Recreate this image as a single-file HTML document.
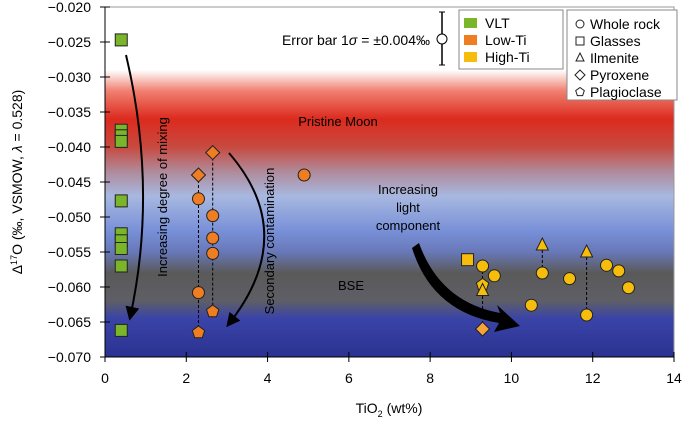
<!DOCTYPE html>
<html><head><meta charset="utf-8"><style>
body{margin:0;background:#fff;font-family:"Liberation Sans",sans-serif}
svg text{font-family:"Liberation Sans","DejaVu Sans",sans-serif}
</style></head><body>
<svg id="c" width="685" height="422" viewBox="0 0 685 422" xmlns="http://www.w3.org/2000/svg">
<defs>
<linearGradient id="bg" x1="0" y1="0" x2="0" y2="1">
<stop offset="0" stop-color="#ffffff"/>
<stop offset="0.18" stop-color="#ffffff"/>
<stop offset="0.24" stop-color="#f08070"/>
<stop offset="0.32" stop-color="#dc2a1e"/>
<stop offset="0.40" stop-color="#c84a40"/>
<stop offset="0.47" stop-color="#b08a9a"/>
<stop offset="0.54" stop-color="#a8b8e0"/>
<stop offset="0.64" stop-color="#7890d8"/>
<stop offset="0.70" stop-color="#6878b8"/>
<stop offset="0.76" stop-color="#5a5a5a"/>
<stop offset="0.84" stop-color="#5e5e66"/>
<stop offset="0.89" stop-color="#3a44a8"/>
<stop offset="1" stop-color="#2a3290"/>
</linearGradient>
<marker id="ah" viewBox="0 0 10 10" refX="8" refY="5" markerWidth="7" markerHeight="7" orient="auto"><path d="M0,0L10,5L0,10z" fill="#000"/></marker>
</defs>
<rect x="105" y="7" width="569" height="350" fill="url(#bg)" stroke="#999" stroke-width="1"/>
<g id="axes"></g>
<g id="marks"></g>
<text x="338" y="126" font-size="13" text-anchor="middle">Pristine Moon</text>
<text x="351" y="290" font-size="13" text-anchor="middle">BSE</text>
<path d="M126,55 Q158,190 130,318" fill="none" stroke="#000" stroke-width="2" marker-end="url(#ah)"/>
<text transform="translate(167,197) rotate(-90)" font-size="13" text-anchor="middle">Increasing degree of mixing</text>
<path d="M229,153 Q300,235 228,325" fill="none" stroke="#000" stroke-width="2" marker-end="url(#ah)"/>
<text transform="translate(274,241) rotate(-90)" font-size="13" text-anchor="middle">Secondary contamination</text>
<path d="M419,243 Q440,302 500,313 L497,305 L520,326 L494,332 L499,323 Q432,312 412,248z" fill="#000"/>
<text x="408" y="194" font-size="13" text-anchor="middle"><tspan x="408" dy="0">Increasing</tspan><tspan x="408" dy="18">light</tspan><tspan x="408" dy="18">component</tspan></text>
<text x="430" y="45" font-size="14" text-anchor="end">Error bar 1<tspan font-style="italic">σ</tspan> = ±0.004‰</text>
<line x1="442" y1="12" x2="442" y2="65" stroke="#000" stroke-width="1.5"/>
<line x1="439" y1="12" x2="445" y2="12" stroke="#000"/><line x1="439" y1="65" x2="445" y2="65" stroke="#000"/>
<circle cx="442" cy="39" r="5" fill="#fff" stroke="#000"/>
<rect x="459" y="10" width="104" height="59" fill="#fff" stroke="#888"/>
<rect x="567" y="10" width="110" height="90" fill="#fff" stroke="#888"/>
<g id="legend"></g>
<text transform="translate(22,182) rotate(-90)" font-size="14" text-anchor="middle">Δ<tspan font-size="9" dy="-5">17</tspan><tspan dy="5">O (‰, VSMOW, </tspan><tspan font-style="italic">λ</tspan> = 0.528)</text>
<text x="389" y="413" font-size="14" text-anchor="middle">TiO<tspan font-size="9" dy="4">2</tspan><tspan dy="-4"> (wt%)</tspan></text>
</svg>
<script>
const xTicks=[0,2,4,6,8,10,12,14];
const yTicks=[-0.020,-0.025,-0.030,-0.035,-0.040,-0.045,-0.050,-0.055,-0.060,-0.065,-0.070];
const vltX=[0.4,0.4,0.4,0.4,0.4,0.4,0.4,0.4,0.4,0.4];
const vltY=[-0.0247,-0.0376,-0.0384,-0.0392,-0.0477,-0.0524,-0.0534,-0.0545,-0.0570,-0.0662];
const lowX=[2.3,2.3,2.3,2.3,2.65,2.65,2.65,2.65,2.65,4.9];
const lowY=[-0.0440,-0.0474,-0.0608,-0.0665,-0.0408,-0.0498,-0.0530,-0.0552,-0.0635,-0.0440];
const lowShape=["diamond","circle","circle","pentagon","diamond","circle","circle","circle","pentagon","circle"];
const highX=[8.92,9.29,9.29,9.29,9.29,9.58,10.49,10.76,10.76,11.43,11.85,11.85,12.34,12.64,12.88];
const highY=[-0.0561,-0.0570,-0.0597,-0.0605,-0.0660,-0.0584,-0.0626,-0.0540,-0.0580,-0.0588,-0.0550,-0.0640,-0.0569,-0.0577,-0.0601];
const highShape=["square","circle","pentagon","triangle","diamond","circle","circle","triangle","circle","circle","triangle","circle","circle","circle","circle"];
const tieLines=[[2.3,-0.0440,-0.0665],[2.65,-0.0408,-0.0635],[9.29,-0.0570,-0.0660],[10.76,-0.0540,-0.0580],[11.85,-0.0550,-0.0640]];
const NS="http://www.w3.org/2000/svg";
const X=v=>105+v*(569/14);
const Y=v=>7+(-0.020-v)*7000;
function el(t,a,p){const e=document.createElementNS(NS,t);for(const k in a)e.setAttribute(k,a[k]);p.appendChild(e);return e;}
const ax=document.getElementById('axes'),mk=document.getElementById('marks'),lg=document.getElementById('legend');
let l=el('line',{x1:105,y1:7,x2:105,y2:357,stroke:'#000'},ax);


l=el('line',{x1:105,y1:357,x2:674,y2:357,stroke:'#000'},ax);


xTicks.forEach(v=>{el('line',{x1:X(v),y1:352,x2:X(v),y2:362,stroke:'#000'},ax);
const t=el('text',{x:X(v),y:383,'font-size':14,'text-anchor':'middle'},ax);t.textContent=v;

});
yTicks.forEach(v=>{el('line',{x1:100,y1:Y(v),x2:110,y2:Y(v),stroke:'#000'},ax);
const t=el('text',{x:91,y:Y(v)+5,'font-size':14,'text-anchor':'end'},ax);t.textContent=v.toFixed(3).replace('-','−');

});
tieLines.forEach(d=>{const e=el('line',{x1:X(d[0]),y1:Y(d[1]),x2:X(d[0]),y2:Y(d[2]),stroke:'#000','stroke-dasharray':'3,2'},mk);

});
function shape(s,cx,cy,fill,p,r){r=r||6;let e;
if(s==='circle')e=el('circle',{cx,cy,r},p);
else if(s==='square')e=el('rect',{x:cx-r,y:cy-r,width:2*r,height:2*r},p);
else if(s==='diamond')e=el('path',{d:`M${cx},${cy-r-1}L${cx+r+1},${cy}L${cx},${cy+r+1}L${cx-r-1},${cy}z`},p);
else if(s==='triangle')e=el('path',{d:`M${cx},${cy-r-1}L${cx+r},${cy+r-1}L${cx-r},${cy+r-1}z`},p);
else {let d='';for(let i=0;i<5;i++){const a=-Math.PI/2+i*2*Math.PI/5;d+=(i?'L':'M')+(cx+(r+0.5)*Math.cos(a))+','+(cy+(r+0.5)*Math.sin(a));}e=el('path',{d:d+'z'},p);}
e.setAttribute('fill',fill);e.setAttribute('stroke','#222');e.setAttribute('stroke-width','1');return e;}
vltX.forEach((x,i)=>{const e=shape('square',X(x),Y(vltY[i]),'#7ab52a',mk);

});
lowX.forEach((x,i)=>{const e=shape(lowShape[i],X(x),Y(lowY[i]),'#ef7d22',mk);

});
highX.forEach((x,i)=>{const e=shape(highShape[i],X(x),Y(highY[i]),highShape[i]==='diamond'?'#f3a33a':'#f6bd0d',mk);

});
const legC=[["VLT","#7ab52a"],["Low-Ti","#ef7d22"],["High-Ti","#f6bd0d"]];
legC.forEach((d,i)=>{const y=23+i*17;el('rect',{x:464,y:y-5,width:13,height:10,fill:d[1]},lg);
const t=el('text',{x:485,y:y+5,'font-size':14},lg);t.textContent=d[0];

});
const legS=[["circle","Whole rock"],["square","Glasses"],["triangle","Ilmenite"],["diamond","Pyroxene"],["pentagon","Plagioclase"]];
legS.forEach((d,i)=>{const y=24+i*17;shape(d[0],580,y,'#fff',lg,4);
const t=el('text',{x:590,y:y+5,'font-size':14},lg);t.textContent=d[1];

});
</script>
</body></html>
